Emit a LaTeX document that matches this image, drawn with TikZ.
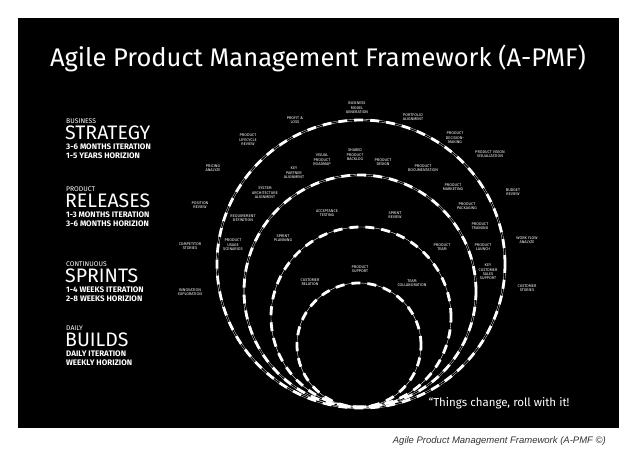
\documentclass[tikz,border=0pt]{standalone}
\usepackage{fontspec}
\setmainfont{Fira Sans}
\newfontfamily\capfont{Liberation Sans}
\begin{document}
\begin{tikzpicture}[x=1pt,y=-1pt,
  lbl/.style={text=white, font=\fontsize{3.9}{4.4}\selectfont, align=center, inner sep=0pt},
  cat/.style={text=white, font=\fontsize{6.8}{7}\selectfont, anchor=base west, inner sep=0pt, text height=0.72em, text depth=0pt},
  big/.style={text=white, font=\fontsize{19.5}{20}\selectfont, anchor=base west, inner sep=0pt, text height=0.72em, text depth=0pt},
  sub/.style={text=white, font=\bfseries\fontsize{8}{9}\selectfont, anchor=base west, inner sep=0pt, text height=0.72em, text depth=0pt},
  ring/.style={draw=white, line width=0.35pt},
  ringd/.style={draw=white, line width=0.35pt, double=black, double distance=1.2pt},
  ringdash/.style={draw=white, line width=2.8pt, dash pattern=on 9pt off 7pt},
]
\useasboundingbox (0,0) rectangle (638,451);
\fill[white] (0,0) rectangle (638,451);
\fill[black] (18,18) rectangle (619,428);

% title
\node[text=white, font=\fontsize{25.5}{27}\selectfont, inner sep=0pt] (title) at (318,58) {Agile Product Management Framework (A-PMF)};

% rings
\coordinate (c1) at (361,264);
\coordinate (c2) at (360,291);
\coordinate (c3) at (361,317);
\coordinate (c4) at (359,345);
\draw[ringd] (c1) circle[radius=144pt];
\draw[ringdash] (c1) circle[radius=144pt];
\draw[ringd] (c2) circle[radius=116pt];
\draw[ringdash] (c2) circle[radius=116pt];
\draw[ring] (c3) circle[radius=90pt];
\draw[ringdash] (c3) circle[radius=90pt];
\draw[ring] (c4) circle[radius=62pt];
\draw[ringdash] (c4) circle[radius=62pt];

% left column
\node[cat] (bus) at (66,123) {BUSINESS};
\node[big] (strat) at (65,139) {STRATEGY};
\node[sub] (s1) at (66,149) {3-6 MONTHS ITERATION};
\node[sub] (s2) at (66,158) {1-5 YEARS HORIZION};

\node[cat] (prod) at (66,191) {PRODUCT};
\node[big] (rel) at (65,207) {RELEASES};
\node[sub] (r1) at (66,217) {1-3 MONTHS ITERATION};
\node[sub] (r2) at (66,226) {3-6 MONTHS HORIZION};

\node[cat] (cont) at (66,266) {CONTINUOUS};
\node[big] (spr) at (65,282) {SPRINTS};
\node[sub] (p1) at (66,292) {1-4 WEEKS ITERATION};
\node[sub] (p2) at (66,301) {2-8 WEEKS HORIZION};

\node[cat] (daily) at (66,330) {DAILY};
\node[big] (bld) at (65,346) {BUILDS};
\node[sub] (b1) at (66,356) {DAILY ITERATION};
\node[sub] (b2) at (66,365) {WEEKLY HORIZION};

% ring labels
\node[lbl] (bmg) at (357,108) {BUSINESS\\MODEL\\GENERATION};
\node[lbl] (pfa) at (413,117) {PORTFOLIO\\ALIGNMENT};
\node[lbl] (pnl) at (295,120) {PROFIT \&\\LOSS};
\node[lbl] (plr) at (248,140) {PRODUCT\\LIFECYCLE\\REVIEW};
\node[lbl] (spb) at (355,155) {SHARED\\PRODUCT\\BACKLOG};
\node[lbl] (vpr) at (322,160) {VISUAL\\PRODUCT\\ROADMAP};
\node[lbl] (pde) at (383,162) {PRODUCT\\DESIGN};
\node[lbl] (pdo) at (423,168) {PRODUCT\\DOCUMENTATION};
\node[lbl] (kpa) at (294,173) {KEY\\PARTNER\\ALIGNMENT};
\node[lbl] (pdm) at (455,138) {PRODUCT\\DECISION-\\MAKING};
\node[lbl] (pvv) at (490,154) {PRODUCT VISION\\VISUALIZATION};
\node[lbl] (pra) at (213,168) {PRICING\\ANALYZE};
\node[lbl] (saa) at (265,193) {SYSTEM\\ARCHITECTURE\\ALIGNMENT};
\node[lbl] (pma) at (453,187) {PRODUCT\\MARKETING};
\node[lbl] (bur) at (513,192) {BUDGET\\REVIEW};
\node[lbl] (por) at (200,205) {POSITION\\REVIEW};
\node[lbl] (ppk) at (467,206) {PRODUCT\\PACKAGING};
\node[lbl] (red) at (243,218) {REQUIREMENT\\DEFINITION};
\node[lbl] (act) at (327,213) {ACCEPTANCE\\TESTING};
\node[lbl] (srv) at (395,215) {SPRINT\\REVIEW};
\node[lbl] (ptr) at (480,226) {PRODUCT\\TRAINING};
\node[lbl] (spl) at (283,238) {SPRINT\\PLANNING};
\node[lbl] (pus) at (233,245) {PRODUCT\\USAGE\\SCENARIOS};
\node[lbl] (cst) at (190,246) {COMPETITOR\\STORIES};
\node[lbl] (pte) at (442,247) {PRODUCT\\TEAM};
\node[lbl] (pla) at (483,247) {PRODUCT\\LAUNCH};
\node[lbl] (wfa) at (527,240) {WORK FLOW\\ANALYZE};
\node[lbl] (psu) at (360,269) {PRODUCT\\SUPPORT};
\node[lbl] (kcs) at (488,272) {KEY\\CUSTOMER\\SALES\\SUPPORT};
\node[lbl] (cre) at (310,282) {CUSTOMER\\RELATION};
\node[lbl] (tco) at (412,283) {TEAM\\COLLABORATION};
\node[lbl] (cus) at (527,288) {CUSTOMER\\STORIES};
\node[lbl] (iex) at (190,292) {INNOVATION\\EXPLORATION};

% quote
\node[text=white, font=\fontsize{11.5}{13}\selectfont, inner sep=0pt] (quote) at (499,403) {\char"201C Things change, roll with it!};

% caption
\node[text=black!80, font=\capfont\itshape\fontsize{9.5}{10}\selectfont, anchor=east, inner sep=0pt] (cap) at (606,441) {Agile Product Management Framework (A-PMF \textcopyright)};
\end{tikzpicture}
\end{document}
